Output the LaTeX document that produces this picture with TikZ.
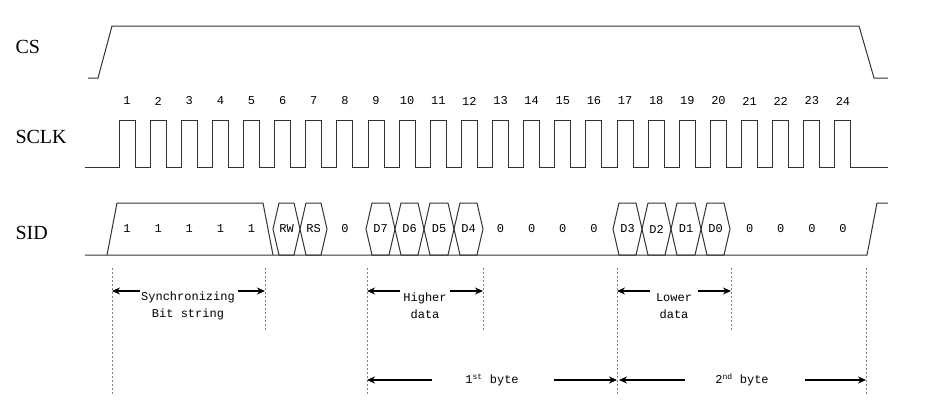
\documentclass[tikz,border=0pt]{standalone}
\usepackage{fontspec}
\setmainfont{Liberation Serif}
\newfontfamily\mono{Liberation Mono}
\usetikzlibrary{arrows.meta}
\begin{document}
\begin{tikzpicture}[x=1pt,y=-1pt,
  wave/.style={line width=1pt,draw=black!80},
  sig/.style={font=\fontsize{20}{21}\selectfont,anchor=west},
  num/.style={font=\mono\fontsize{12}{13}\selectfont},
  guide/.style={dash pattern=on 2pt off 2pt,draw=black!50,line width=0.5pt},
  arr/.style={-{Stealth[length=8pt,width=7pt]},line width=1.1pt},
  lab/.style={font=\mono\fontsize{12}{17}\selectfont,align=center}]
\useasboundingbox (0,0) rectangle (938,405);
\node[sig] (cs) at (12,47) {CS};
\node[sig] (sclk) at (12,137) {SCLK};
\node[sig] (sid) at (12,233) {SID};
% CS
\draw[wave] (88,78) -- (98,78) -- (112,26) -- (859,26) -- (874,78) -- (888,78);
% SCLK
\draw[wave] (85,167) foreach \k in {1,...,24} {
  -- ({119+(\k-1)*31.13},167) -- ({119+(\k-1)*31.13},120) -- ({135+(\k-1)*31.13},120) -- ({135+(\k-1)*31.13},167)} -- (888,167);
\foreach \k in {1,...,24} \node[num] (n\k) at ({127+(\k-1)*31.13},101) {\k};
% SID
\draw[wave] (85,255) -- (867,255) -- (877,203) -- (888,203);
\draw[wave] (107,255) -- (117,203) -- (263,203) -- (273,255);
\foreach \k in {1,...,5} \node[num] (s\k) at ({127+(\k-1)*31.13},229) {1};
\foreach \k in {8,13,14,15,16,21,22,23,24} \node[num] (z\k) at ({127+(\k-1)*31.13},229) {0};
\foreach \a/\b/\t in {273/300/RW,300/327/RS,366/395/D7,395/424/D6,424/454/D5,454/483/D4,613/642/D3,642/671/D2,671/701/D1,701/730/D0}{
  \draw[wave] (\a,229) -- (\a+6,203) -- (\b-6,203) -- (\b,229) -- (\b-6,255) -- (\a+6,255) -- cycle;
  \node[num,inner sep=0pt] (h\t) at ({(\a+\b)/2},229) {\t};
}
% dashed guides
\foreach \x/\e/\n in {112/395/a,265/330/b,367/395/c,483/330/d,617/395/e,731/330/f,866/395/g}{
  \coordinate (t\n) at (\x,268); \coordinate (b\n) at (\x,\e);
  \draw[guide] (t\n) -- (b\n);}
% labels
\node[lab] (sync) at (188,306) {Synchronizing\\Bit string};
\node[lab] (hi) at (425,306) {Higher\\data};
\node[lab] (lo) at (674,306) {Lower\\data};
\node[lab] (by1) at (492,380) {1\textsuperscript{st} byte};
\node[lab] (by2) at (742,380) {2\textsuperscript{nd} byte};
\coordinate (pa) at (112,291); \coordinate (pb) at (265,291);
\coordinate (pc) at (367,291); \coordinate (pd) at (483,291);
\coordinate (pe) at (617,291); \coordinate (pf) at (731,291);
\draw[arr] (140,291) -- (pa); \draw[arr] (238,291) -- (pb);
\draw[arr] (400,291) -- (pc); \draw[arr] (450,291) -- (pd);
\draw[arr] (650,291) -- (pe); \draw[arr] (698,291) -- (pf);
\coordinate (qc) at (367,380); \coordinate (qe) at (617,380);
\coordinate (qe2) at (619,380); \coordinate (qg) at (866,380);
\draw[arr] (432,380) -- (qc); \draw[arr] (554,380) -- (qe);
\draw[arr] (685,380) -- (qe2); \draw[arr] (805,380) -- (qg);
\end{tikzpicture}
\end{document}
